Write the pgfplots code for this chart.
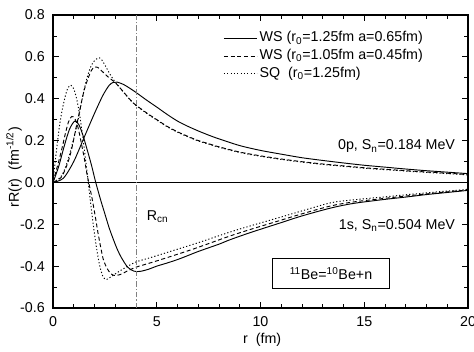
\documentclass[border=0pt]{standalone}
\usepackage{pgfplots}
\pgfplotsset{compat=1.18}
\usepackage{fontspec}
\setmainfont{Liberation Sans}
\newcommand{\ff}{\fontsize{10.7}{12.5}\selectfont}
\begin{document}
\begin{tikzpicture}
\begin{axis}[
  at={(0,0)}, anchor=south west,
  scale only axis, width=311.25pt, height=219.75pt,
  xmin=0, xmax=20, ymin=-0.6, ymax=0.8,
  xtick={0,5,10,15,20}, minor xtick={1,2,3,4,6,7,8,9,11,12,13,14,16,17,18,19},
  ytick={-0.6,-0.4,-0.2,0,0.2,0.4,0.6,0.8},
  yticklabels={-0.6,-0.4,-0.2,0.0,0.2,0.4,0.6,0.8},
  minor ytick={-0.5,-0.3,-0.1,0.1,0.3,0.5,0.7},
  tick align=inside, major tick length=4.5pt, minor tick length=3pt,
  axis line style={line width=0.8pt},
  every tick/.style={line width=0.6pt, black},
  /pgf/number format/assume math mode=true,
  tick label style={font=\ff},
  yticklabel style={inner sep=0pt, xshift=-6pt},
  xticklabel style={inner sep=0pt, yshift=-6.5pt},
  xlabel={r\ \ (fm)}, ylabel={rR(r)\ \ (fm\textsuperscript{-1/2})},
  label style={font=\ff},
  xlabel style={at={(axis description cs:0.504,-0.109)}, anchor=center},
  ylabel style={at={(axis description cs:-0.094,0.48)}, anchor=center},
  legend style={at={(0.41,0.95)}, anchor=north west, draw=none, fill=none,
    font=\ff, row sep=0.25pt, inner sep=0pt,
    nodes={inner sep=1.5pt, text height=7.5pt, text depth=2.5pt}},
  legend cell align=left,
  legend image code/.code={\draw[#1] (0pt,0pt) -- (25pt,0pt);},
  clip=true,
]
\addplot[black, line width=0.7pt, smooth] coordinates {
(0,0) (0.5,0.02) (1.0,0.1) (1.5,0.215) (2.0,0.33) (2.4,0.415) (2.7,0.463) (2.9,0.478) (3.1,0.479) (3.4,0.468) (3.7,0.45) (4.0,0.43) (4.5,0.394) (5,0.36) (5.5,0.325) (6,0.293) (6.5,0.268) (7,0.246) (7.5,0.226) (8,0.208) (9,0.176) (10,0.153) (11,0.135) (12,0.118) (13,0.105) (14,0.093) (15,0.082) (16,0.073) (17,0.064) (18,0.056) (19,0.049) (20,0.042)};
\addlegendentry{WS (r\textsubscript{0}=1.25fm a=0.65fm)}
\addplot[black, line width=0.7pt, dash pattern=on 3pt off 2pt, smooth] coordinates {
(0,0) (0.4,0.025) (0.7,0.09) (0.9,0.16) (1.13,0.27) (1.3,0.35) (1.5,0.44) (1.7,0.5) (1.85,0.535) (2.0,0.552) (2.15,0.55) (2.42,0.526) (2.7,0.5) (2.98,0.479) (3.2,0.455) (3.46,0.425) (3.7,0.397) (3.95,0.373) (4.5,0.333) (5,0.3) (5.5,0.268) (6,0.242) (6.5,0.22) (7,0.2) (7.5,0.185) (8,0.17) (9,0.145) (10,0.127) (11,0.112) (12,0.099) (13,0.088) (14,0.079) (15,0.07) (16,0.063) (17,0.056) (18,0.05) (19,0.044) (20,0.038)};
\addlegendentry{WS (r\textsubscript{0}=1.05fm a=0.45fm)}
\addplot[black, line width=0.7pt, dash pattern=on 0.9pt off 1.6pt, smooth] coordinates {
(0,0) (0.4,0.03) (0.7,0.1) (1.0,0.21) (1.2,0.295) (1.4,0.395) (1.6,0.485) (1.8,0.548) (2.0,0.582) (2.25,0.595) (2.45,0.57) (2.74,0.518) (2.98,0.482) (3.2,0.455) (3.46,0.424) (3.7,0.396) (3.95,0.372) (4.5,0.331) (5,0.298) (5.5,0.266) (6,0.24) (6.5,0.218) (7,0.198) (7.5,0.183) (8,0.168) (9,0.143) (10,0.125) (11,0.11) (12,0.097) (13,0.086) (14,0.077) (15,0.068) (16,0.061) (17,0.054) (18,0.048) (19,0.042) (20,0.036)};
\addlegendentry{SQ\ \ (r\textsubscript{0}=1.25fm)}
% 1s
\addplot[black, line width=0.7pt, smooth, forget plot] coordinates {
(0,0) (0.15,0.04) (0.3,0.085) (0.56,0.18) (0.8,0.255) (1.05,0.293) (1.25,0.275) (1.45,0.223) (1.65,0.155) (1.85,0.084) (2.06,0) (2.3,-0.085) (2.5,-0.15) (2.7,-0.215) (2.9,-0.27) (3.1,-0.32) (3.3,-0.36) (3.6,-0.405) (3.9,-0.424) (4.2,-0.425) (4.6,-0.415) (5,-0.4) (5.5,-0.385) (6.1,-0.365) (7,-0.33) (8,-0.295) (8.5,-0.275) (9.5,-0.24) (11,-0.192) (12,-0.16) (13.4,-0.122) (14.5,-0.1) (16,-0.081) (17,-0.07) (18,-0.058) (19,-0.048) (20,-0.038)};
\addplot[black, line width=0.7pt, dash pattern=on 3pt off 2pt, smooth, forget plot] coordinates {
(0,0) (0.15,0.055) (0.3,0.11) (0.45,0.17) (0.6,0.235) (0.75,0.29) (0.9,0.315) (1.05,0.305) (1.2,0.265) (1.35,0.195) (1.5,0.12) (1.62,0.05) (1.72,0) (1.85,-0.06) (1.93,-0.102) (2.05,-0.17) (2.17,-0.242) (2.3,-0.31) (2.42,-0.366) (2.6,-0.41) (2.8,-0.437) (3.0,-0.445) (3.3,-0.438) (3.6,-0.422) (4,-0.405) (4.5,-0.39) (5,-0.375) (6.1,-0.34) (7,-0.31) (8.5,-0.257) (9.5,-0.225) (11,-0.18) (12,-0.15) (13.4,-0.112) (14.5,-0.093) (16,-0.076) (17,-0.065) (18,-0.055) (19,-0.045) (20,-0.036)};
\addplot[black, line width=0.7pt, dash pattern=on 0.9pt off 1.6pt, smooth, forget plot] coordinates {
(0,0) (0.1,0.095) (0.2,0.18) (0.32,0.275) (0.45,0.35) (0.6,0.415) (0.7,0.447) (0.85,0.465) (1.0,0.447) (1.15,0.395) (1.3,0.312) (1.45,0.206) (1.6,0.084) (1.7,0) (1.8,-0.087) (1.95,-0.209) (2.1,-0.315) (2.25,-0.397) (2.4,-0.448) (2.55,-0.464) (2.7,-0.457) (3.0,-0.437) (3.5,-0.406) (4,-0.38) (4.5,-0.365) (5,-0.35) (6.1,-0.316) (7,-0.288) (8.5,-0.238) (9.5,-0.208) (11,-0.165) (12,-0.136) (13.4,-0.097) (14.5,-0.083) (16,-0.069) (17,-0.059) (18,-0.05) (19,-0.041) (20,-0.033)};
% reference lines
\addplot[black, line width=0.6pt, forget plot] coordinates {(0,0) (20,0)};
\addplot[gray, line width=0.6pt, dash pattern=on 4pt off 1.5pt on 1pt off 1.5pt, forget plot] coordinates {(4,-0.6) (4,0.8)};
% texts
\node[anchor=east, font=\ff] at (axis cs:19.6,0.172) {0p, S\textsubscript{n}=0.184 MeV};
\node[anchor=east, font=\ff] at (axis cs:19.6,-0.205) {1s, S\textsubscript{n}=0.504 MeV};
\node[anchor=west, font=\ff] at (axis cs:4.3,-0.165) {R\textsubscript{cn}};
\node[draw, line width=0.6pt, minimum width=87.75pt, minimum height=22.5pt, fill=white, font=\ff] at (axis cs:13.4,-0.437) {\textsuperscript{11}Be=\textsuperscript{10}Be+n};
\end{axis}
\pgfresetboundingbox
\path[use as bounding box] (-39.75pt,-33pt) rectangle (315.75pt,231pt);
\end{tikzpicture}
\end{document}
